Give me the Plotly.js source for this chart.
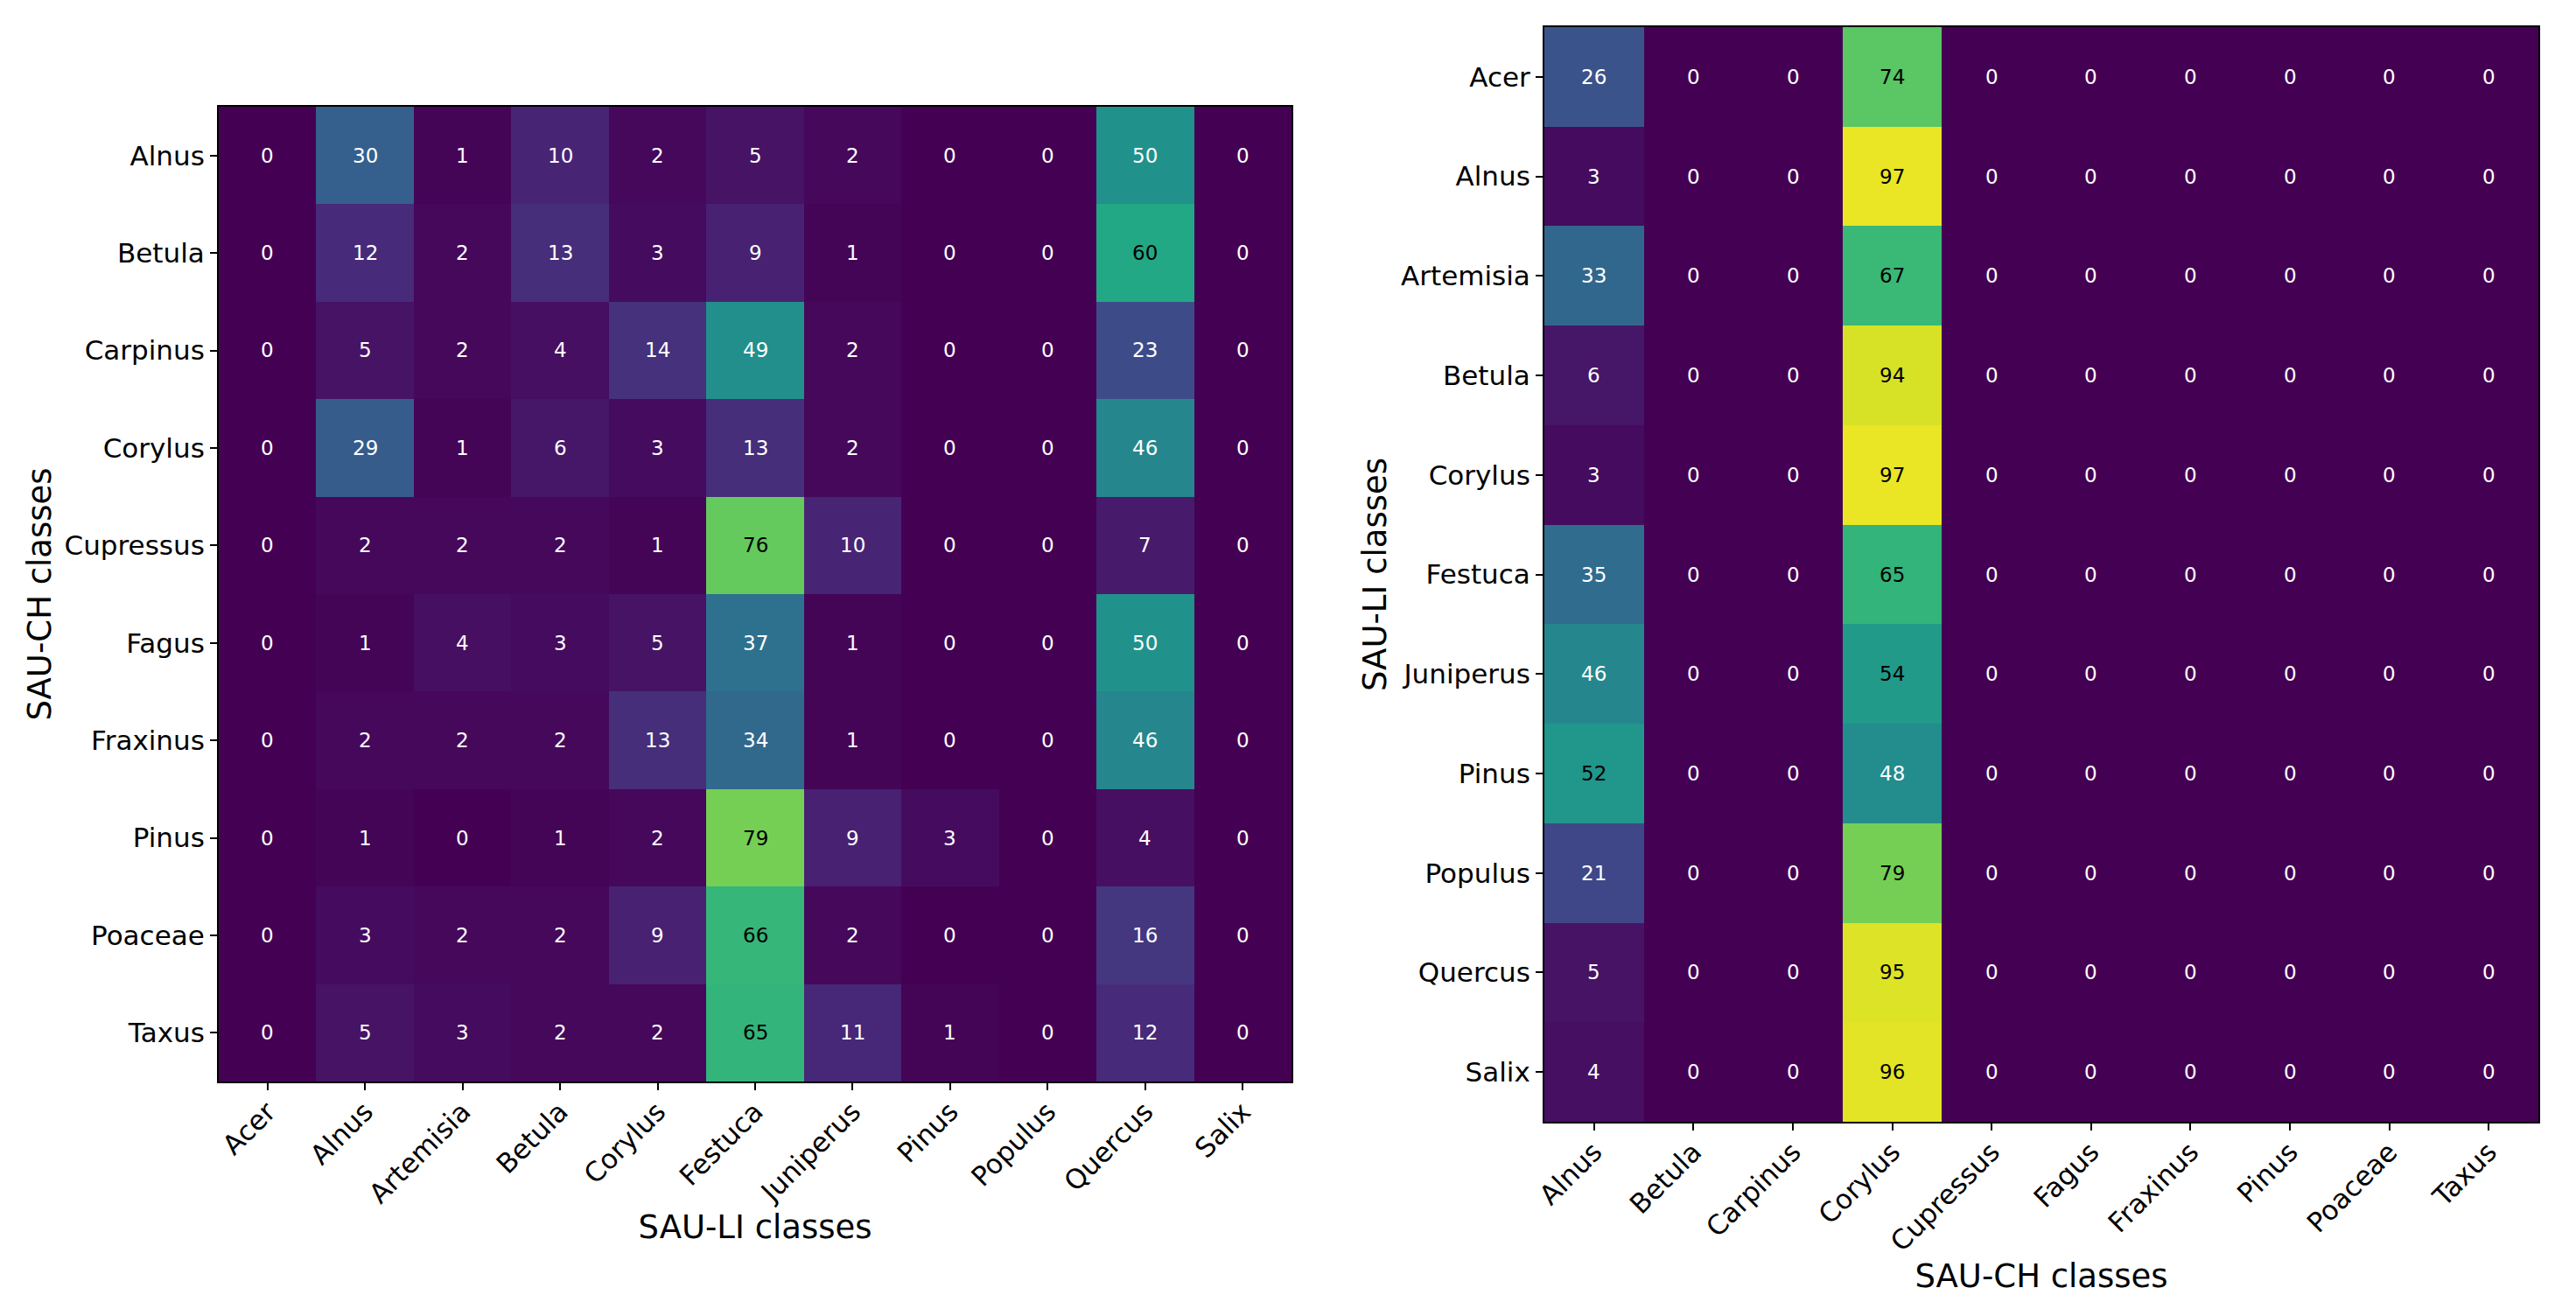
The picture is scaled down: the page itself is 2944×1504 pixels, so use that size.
<!DOCTYPE html>
<html>
<head>
<meta charset="utf-8">
<script src="https://cdn.plot.ly/plotly-3.0.1.min.js"></script>
<style>html,body{margin:0;padding:0;background:#fff;}#chart{width:2944px;height:1504px;}</style>
</head>
<body>
<div id="chart"></div>
<script>
// Left matrix: rows = SAU-CH classes, columns = SAU-LI classes
const leftRows = ['Alnus','Betula','Carpinus','Corylus','Cupressus','Fagus','Fraxinus','Pinus','Poaceae','Taxus'];
const leftCols = ['Acer','Alnus','Artemisia','Betula','Corylus','Festuca','Juniperus','Pinus','Populus','Quercus','Salix'];
const leftValues = [
  [0,30,1,10,2,5,2,0,0,50,0],
  [0,12,2,13,3,9,1,0,0,60,0],
  [0,5,2,4,14,49,2,0,0,23,0],
  [0,29,1,6,3,13,2,0,0,46,0],
  [0,2,2,2,1,76,10,0,0,7,0],
  [0,1,4,3,5,37,1,0,0,50,0],
  [0,2,2,2,13,34,1,0,0,46,0],
  [0,1,0,1,2,79,9,3,0,4,0],
  [0,3,2,2,9,66,2,0,0,16,0],
  [0,5,3,2,2,65,11,1,0,12,0]
];

// Right matrix: rows = SAU-LI classes, columns = SAU-CH classes
const rightRows = ['Acer','Alnus','Artemisia','Betula','Corylus','Festuca','Juniperus','Pinus','Populus','Quercus','Salix'];
const rightCols = ['Alnus','Betula','Carpinus','Corylus','Cupressus','Fagus','Fraxinus','Pinus','Poaceae','Taxus'];
const rightValues = [
  [26,0,0,74,0,0,0,0,0,0],
  [3,0,0,97,0,0,0,0,0,0],
  [33,0,0,67,0,0,0,0,0,0],
  [6,0,0,94,0,0,0,0,0,0],
  [3,0,0,97,0,0,0,0,0,0],
  [35,0,0,65,0,0,0,0,0,0],
  [46,0,0,54,0,0,0,0,0,0],
  [52,0,0,48,0,0,0,0,0,0],
  [21,0,0,79,0,0,0,0,0,0],
  [5,0,0,95,0,0,0,0,0,0],
  [4,0,0,96,0,0,0,0,0,0]
];

const viridis = [
  [0.0,'#440154'],[0.1,'#482475'],[0.2,'#414487'],[0.3,'#355f8d'],
  [0.4,'#2a788e'],[0.5,'#21918c'],[0.6,'#22a884'],[0.7,'#44bf70'],
  [0.8,'#7ad151'],[0.9,'#bddf26'],[1.0,'#fde725']
];

const FONT = 'DejaVu Sans, Liberation Sans, sans-serif';

function hm(z, x, y, xa, ya) {
  return {
    type: 'heatmap', z: z, x: x, y: y, xaxis: xa, yaxis: ya,
    colorscale: viridis, zmin: 0, zmax: 100, showscale: false,
    hoverinfo: 'x+y+z'
  };
}

const annotations = [];
function addCellText(z, x, y, xr, yr) {
  for (let i = 0; i < y.length; i++) {
    for (let j = 0; j < x.length; j++) {
      const v = z[i][j];
      annotations.push({
        x: x[j], y: y[i], xref: xr, yref: yr, text: String(v),
        showarrow: false,
        font: {family: FONT, size: 23, color: v > 50 ? '#000000' : '#ffffff'}
      });
    }
  }
}
addCellText(leftValues, leftCols, leftRows, 'x', 'y');
addCellText(rightValues, rightCols, rightRows, 'x2', 'y2');

function axisBase(extra) {
  return Object.assign({
    type: 'category',
    showgrid: false, zeroline: false,
    showline: true, mirror: true, linecolor: '#000', linewidth: 2,
    ticks: 'outside', ticklen: 8, tickwidth: 2, tickcolor: '#000',
    tickfont: {family: FONT, size: 31, color: '#000'},
    automargin: false
  }, extra);
}

const layout = {
  width: 2944, height: 1504,
  margin: {l: 0, r: 0, t: 0, b: 0},
  paper_bgcolor: '#fff', plot_bgcolor: '#fff',
  showlegend: false,
  font: {family: FONT, color: '#000'},
  xaxis: axisBase({
    domain: [250/2944, 1476/2944], anchor: 'y', tickangle: -45, ticklabelstandoff: -6,
    title: {text: 'SAU-LI classes', font: {family: FONT, size: 37, color: '#000'}, standoff: 0}
  }),
  yaxis: axisBase({
    domain: [(1504-1236)/1504, (1504-122)/1504], anchor: 'x', autorange: 'reversed',
    title: {text: 'SAU-CH classes', font: {family: FONT, size: 37, color: '#000'}, standoff: 4}
  }),
  xaxis2: axisBase({
    domain: [1765/2944, 2901/2944], anchor: 'y2', tickangle: -45, ticklabelstandoff: -6,
    title: {text: 'SAU-CH classes', font: {family: FONT, size: 37, color: '#000'}, standoff: 0}
  }),
  yaxis2: axisBase({
    domain: [(1504-1282)/1504, (1504-31)/1504], anchor: 'x2', autorange: 'reversed',
    title: {text: 'SAU-LI classes', font: {family: FONT, size: 37, color: '#000'}, standoff: 5}
  }),
  annotations: annotations
};

Plotly.newPlot('chart', [
  hm(leftValues, leftCols, leftRows, 'x', 'y'),
  hm(rightValues, rightCols, rightRows, 'x2', 'y2')
], layout, {staticPlot: true, displayModeBar: false});
</script>
</body>
</html>
